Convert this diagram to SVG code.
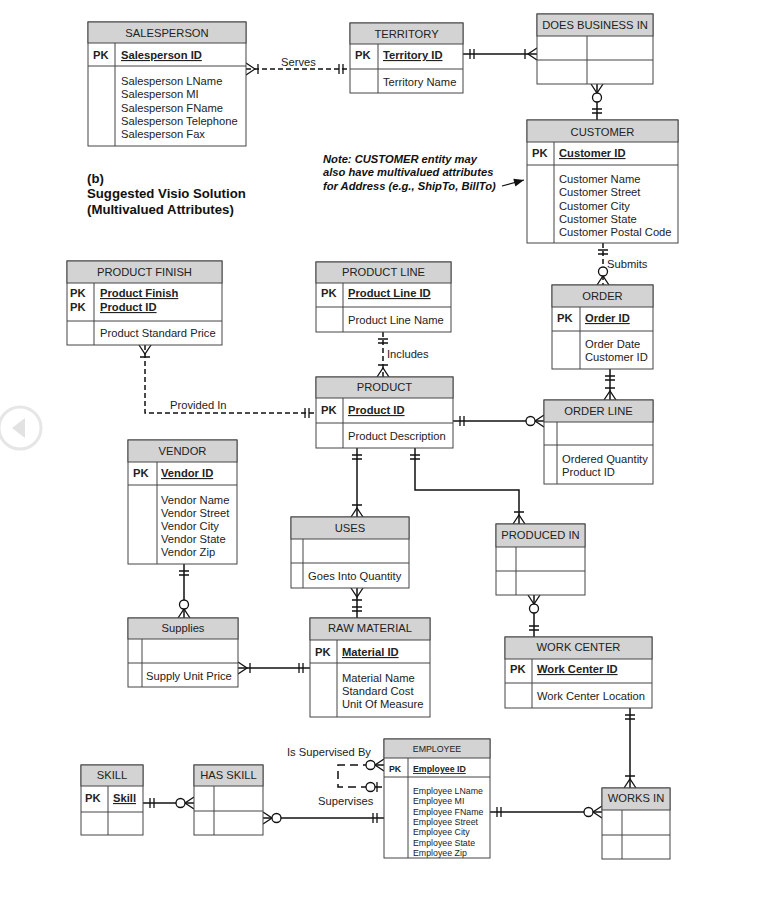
<svg xmlns="http://www.w3.org/2000/svg" width="770" height="903" viewBox="0 0 770 903">
<style>
.box{fill:#fff;stroke:#444;stroke-width:1}
.hdr{fill:#d3d3d3;stroke:#444;stroke-width:1}
.ln{stroke:#444;stroke-width:1;fill:none}
text{font-family:"Liberation Sans",Arial,sans-serif;font-size:11.2px;fill:#222}
.h{text-anchor:middle}
.b{font-weight:bold}
.u{text-decoration:underline}
.s{font-size:8.8px}
.t{font-size:13.2px;font-weight:bold;fill:#111}
.note{font-size:11.2px;font-weight:bold;font-style:italic;fill:#111}
.c{fill:none;stroke:#111;stroke-width:1.5}
.d{stroke-dasharray:5 3}
.d2{stroke-dasharray:8 5}
</style>
<defs>
<marker id="oo" markerWidth="1" markerHeight="1" refX="0" refY="0" orient="auto-start-reverse" markerUnits="userSpaceOnUse" style="overflow:visible">
<path d="M-7,-5V5M-11,-5V5" stroke="#111" stroke-width="1.3" fill="none"/>
</marker>
<marker id="om" markerWidth="1" markerHeight="1" refX="0" refY="0" orient="auto-start-reverse" markerUnits="userSpaceOnUse" style="overflow:visible">
<path d="M0,-6L-9,0L0,6M-12,-5V5" stroke="#111" stroke-width="1.3" fill="none"/>
</marker>
<marker id="zm" markerWidth="1" markerHeight="1" refX="0" refY="0" orient="auto-start-reverse" markerUnits="userSpaceOnUse" style="overflow:visible">
<path d="M0,-6L-9,0L0,6" stroke="#111" stroke-width="1.3" fill="none"/>
<circle cx="-13.5" cy="0" r="4.5" fill="#fff" stroke="#111" stroke-width="1.3"/>
</marker>
<marker id="zo" markerWidth="1" markerHeight="1" refX="0" refY="0" orient="auto-start-reverse" markerUnits="userSpaceOnUse" style="overflow:visible">
<path d="M-7,-5V5" stroke="#111" stroke-width="1.3" fill="none"/>
<circle cx="-13.5" cy="0" r="4.5" fill="#fff" stroke="#111" stroke-width="1.3"/>
</marker>
<marker id="arr" markerWidth="1" markerHeight="1" refX="0" refY="0" orient="auto" markerUnits="userSpaceOnUse" style="overflow:visible">
<path d="M0,0L-10,-4L-10,4Z" fill="#111"/>
</marker>
</defs>
<rect width="770" height="903" fill="#fff"/>

<g id="nav-decoration">
<circle cx="20" cy="428" r="21" fill="none" stroke="#e6e6e6" stroke-width="3"/>
<path d="M12,428L25,418L25,438Z" fill="#e2e2e2"/>
</g>

<g id="title">
<text class="t" x="87" y="183">(b)</text>
<text class="t" x="87" y="198">Suggested Visio Solution</text>
<text class="t" x="87" y="214">(Multivalued Attributes)</text>
</g>

<g id="note">
<text class="note" x="323" y="163">Note: CUSTOMER entity may</text>
<text class="note" x="323" y="176">also have multivalued attributes</text>
<text class="note" x="323" y="190">for Address (e.g., ShipTo, BillTo)</text>
<path d="M502,186L524,180" stroke="#111" stroke-width="1.2" marker-end="url(#arr)"/>
</g>

<g id="connectors">
<path class="c d" d="M246,69H350" marker-start="url(#om)" marker-end="url(#oo)"/>
<text x="281" y="66">Serves</text>
<path class="c" d="M463,54H537" marker-start="url(#oo)" marker-end="url(#om)"/>
<path class="c" d="M597,84V120" marker-start="url(#zm)" marker-end="url(#oo)"/>
<path class="c d" d="M603,243V285" marker-start="url(#oo)" marker-end="url(#zm)"/>
<text x="607" y="268">Submits</text>
<path class="c" d="M610,369V400" marker-start="url(#oo)" marker-end="url(#om)"/>
<path class="c" d="M453,421H544" marker-start="url(#oo)" marker-end="url(#zm)"/>
<path class="c d" d="M383,332V377" marker-start="url(#oo)" marker-end="url(#om)"/>
<text x="387" y="358">Includes</text>
<path class="c d" d="M145,345V413H316" marker-start="url(#om)" marker-end="url(#oo)"/>
<text x="170" y="409">Provided In</text>
<path class="c" d="M357,448V517" marker-start="url(#oo)" marker-end="url(#om)"/>
<path class="c" d="M415,448V490H519V524" marker-start="url(#oo)" marker-end="url(#om)"/>
<path class="c" d="M357,588V618" marker-start="url(#om)" marker-end="url(#oo)"/>
<path class="c" d="M184,564V618" marker-start="url(#oo)" marker-end="url(#zm)"/>
<path class="c" d="M238,668H310" marker-start="url(#om)" marker-end="url(#oo)"/>
<path class="c" d="M534,595V637" marker-start="url(#zm)" marker-end="url(#oo)"/>
<path class="c" d="M630,708V788" marker-start="url(#oo)" marker-end="url(#om)"/>
<path class="c" d="M490,812H602" marker-start="url(#oo)" marker-end="url(#zm)"/>
<path class="c" d="M143,803H194" marker-start="url(#oo)" marker-end="url(#zm)"/>
<path class="c" d="M263,818H384" marker-start="url(#zm)" marker-end="url(#oo)"/>
<path class="c d2" d="M384,765H338V787H384" marker-start="url(#zm)" marker-end="url(#zo)"/>
<text x="287" y="756">Is Supervised By</text>
<text x="318" y="805">Supervises</text>
</g>

<g id="salesperson">
<rect class="box" x="88" y="22" width="158" height="124"/>
<rect class="hdr" x="88" y="22" width="158" height="21"/>
<path class="ln" d="M88,66H246M115,43V146"/>
<text class="h" x="167" y="37">SALESPERSON</text>
<text class="b" x="93" y="59">PK</text>
<text class="b u" x="121" y="59">Salesperson ID</text>
<text x="121" y="85">Salesperson LName</text>
<text x="121" y="98.3">Salesperson MI</text>
<text x="121" y="111.6">Salesperson FName</text>
<text x="121" y="125">Salesperson Telephone</text>
<text x="121" y="138.3">Salesperson Fax</text>
</g>

<g id="territory">
<rect class="box" x="350" y="23" width="113" height="70"/>
<rect class="hdr" x="350" y="23" width="113" height="21"/>
<path class="ln" d="M350,69H463M378,44V93"/>
<text class="h" x="406.5" y="38">TERRITORY</text>
<text class="b" x="355" y="59">PK</text>
<text class="b u" x="383" y="59">Territory ID</text>
<text x="383" y="86">Territory Name</text>
</g>

<g id="does-business-in">
<rect class="box" x="537" y="14" width="116" height="70"/>
<rect class="hdr" x="537" y="14" width="116" height="22"/>
<path class="ln" d="M537,60H653M587,36V84"/>
<text class="h" x="595" y="29">DOES BUSINESS IN</text>
</g>

<g id="customer">
<rect class="box" x="527" y="120" width="151" height="123"/>
<rect class="hdr" x="527" y="120" width="151" height="22"/>
<path class="ln" d="M527,165H678M554,142V243"/>
<text class="h" x="602.5" y="135.5">CUSTOMER</text>
<text class="b" x="532" y="157">PK</text>
<text class="b u" x="559" y="157">Customer ID</text>
<text x="559" y="183">Customer Name</text>
<text x="559" y="196.3">Customer Street</text>
<text x="559" y="209.6">Customer City</text>
<text x="559" y="223">Customer State</text>
<text x="559" y="236.3">Customer Postal Code</text>
</g>

<g id="order">
<rect class="box" x="552" y="285" width="101" height="84"/>
<rect class="hdr" x="552" y="285" width="101" height="22"/>
<path class="ln" d="M552,331H653M580,307V369"/>
<text class="h" x="602.5" y="300">ORDER</text>
<text class="b" x="557" y="322">PK</text>
<text class="b u" x="585" y="322">Order ID</text>
<text x="585" y="348">Order Date</text>
<text x="585" y="361">Customer ID</text>
</g>

<g id="order-line">
<rect class="box" x="544" y="400" width="109" height="84"/>
<rect class="hdr" x="544" y="400" width="109" height="22"/>
<path class="ln" d="M544,445H653M557,422V484"/>
<text class="h" x="598.5" y="415">ORDER LINE</text>
<text x="562" y="463">Ordered Quantity</text>
<text x="562" y="476">Product ID</text>
</g>

<g id="product-finish">
<rect class="box" x="67" y="261" width="155" height="84"/>
<rect class="hdr" x="67" y="261" width="155" height="22"/>
<path class="ln" d="M67,321H222M94,283V345"/>
<text class="h" x="144.5" y="276">PRODUCT FINISH</text>
<text class="b" x="70" y="297">PK</text>
<text class="b" x="70" y="311">PK</text>
<text class="b u" x="100" y="297">Product Finish</text>
<text class="b u" x="100" y="311">Product ID</text>
<text x="100" y="337">Product Standard Price</text>
</g>

<g id="product-line">
<rect class="box" x="316" y="262" width="135" height="70"/>
<rect class="hdr" x="316" y="262" width="135" height="21"/>
<path class="ln" d="M316,307H451M343,283V332"/>
<text class="h" x="383.5" y="276">PRODUCT LINE</text>
<text class="b" x="321" y="297">PK</text>
<text class="b u" x="348" y="297">Product Line ID</text>
<text x="348" y="324">Product Line Name</text>
</g>

<g id="product">
<rect class="box" x="316" y="377" width="137" height="71"/>
<rect class="hdr" x="316" y="377" width="137" height="21"/>
<path class="ln" d="M316,423H453M343,398V448"/>
<text class="h" x="384.5" y="391">PRODUCT</text>
<text class="b" x="321" y="414">PK</text>
<text class="b u" x="348" y="414">Product ID</text>
<text x="348" y="440">Product Description</text>
</g>

<g id="vendor">
<rect class="box" x="128" y="440" width="109" height="124"/>
<rect class="hdr" x="128" y="440" width="109" height="22"/>
<path class="ln" d="M128,485H237M157,462V564"/>
<text class="h" x="182.5" y="455">VENDOR</text>
<text class="b" x="133" y="477">PK</text>
<text class="b u" x="161" y="477">Vendor ID</text>
<text x="161" y="504">Vendor Name</text>
<text x="161" y="517">Vendor Street</text>
<text x="161" y="530">Vendor City</text>
<text x="161" y="543">Vendor State</text>
<text x="161" y="556">Vendor Zip</text>
</g>

<g id="uses">
<rect class="box" x="291" y="517" width="118" height="71"/>
<rect class="hdr" x="291" y="517" width="118" height="22"/>
<path class="ln" d="M291,563H409M303,539V588"/>
<text class="h" x="350" y="532">USES</text>
<text x="308" y="580">Goes Into Quantity</text>
</g>

<g id="raw-material">
<rect class="box" x="310" y="618" width="120" height="99"/>
<rect class="hdr" x="310" y="618" width="120" height="22"/>
<path class="ln" d="M310,663H430M337,640V717"/>
<text class="h" x="370" y="632">RAW MATERIAL</text>
<text class="b" x="315" y="656">PK</text>
<text class="b u" x="342" y="656">Material ID</text>
<text x="342" y="682">Material Name</text>
<text x="342" y="695">Standard Cost</text>
<text x="342" y="708">Unit Of Measure</text>
</g>

<g id="supplies">
<rect class="box" x="128" y="618" width="110" height="69"/>
<rect class="hdr" x="128" y="618" width="110" height="21"/>
<path class="ln" d="M128,663H238M142,639V687"/>
<text class="h" x="183" y="632">Supplies</text>
<text x="146" y="680">Supply Unit Price</text>
</g>

<g id="produced-in">
<rect class="box" x="496" y="524" width="89" height="71"/>
<rect class="hdr" x="496" y="524" width="89" height="23"/>
<path class="ln" d="M496,571H585M516,547V595"/>
<text class="h" x="540.5" y="539">PRODUCED IN</text>
</g>

<g id="work-center">
<rect class="box" x="505" y="637" width="147" height="71"/>
<rect class="hdr" x="505" y="637" width="147" height="22"/>
<path class="ln" d="M505,683H652M532,659V708"/>
<text class="h" x="578.5" y="651">WORK CENTER</text>
<text class="b" x="510" y="673">PK</text>
<text class="b u" x="537" y="673">Work Center ID</text>
<text x="537" y="700">Work Center Location</text>
</g>

<g id="employee">
<rect class="box" x="384" y="739" width="106" height="119"/>
<rect class="hdr" x="384" y="739" width="106" height="19"/>
<path class="ln" d="M384,777H490M408,758V858"/>
<text class="h s" x="437" y="752">EMPLOYEE</text>
<text class="b s" x="389" y="772">PK</text>
<text class="b u s" x="413" y="772">Employee ID</text>
<text class="s" x="413" y="794">Employee LName</text>
<text class="s" x="413" y="804.3">Employee MI</text>
<text class="s" x="413" y="814.6">Employee FName</text>
<text class="s" x="413" y="825">Employee Street</text>
<text class="s" x="413" y="835.3">Employee City</text>
<text class="s" x="413" y="845.6">Employee State</text>
<text class="s" x="413" y="856">Employee Zip</text>
</g>

<g id="works-in">
<rect class="box" x="602" y="788" width="68" height="71"/>
<rect class="hdr" x="602" y="788" width="68" height="22"/>
<path class="ln" d="M602,835H670M622,810V859"/>
<text class="h" x="636" y="802">WORKS IN</text>
</g>

<g id="skill">
<rect class="box" x="81" y="765" width="62" height="70"/>
<rect class="hdr" x="81" y="765" width="62" height="21"/>
<path class="ln" d="M81,812H143M108,786V835"/>
<text class="h" x="112" y="779">SKILL</text>
<text class="b" x="85" y="802">PK</text>
<text class="b u" x="113" y="802">Skill</text>
</g>

<g id="has-skill">
<rect class="box" x="194" y="765" width="69" height="70"/>
<rect class="hdr" x="194" y="765" width="69" height="21"/>
<path class="ln" d="M194,811H263M214,786V835"/>
<text class="h" x="228.5" y="779">HAS SKILL</text>
</g>
</svg>
